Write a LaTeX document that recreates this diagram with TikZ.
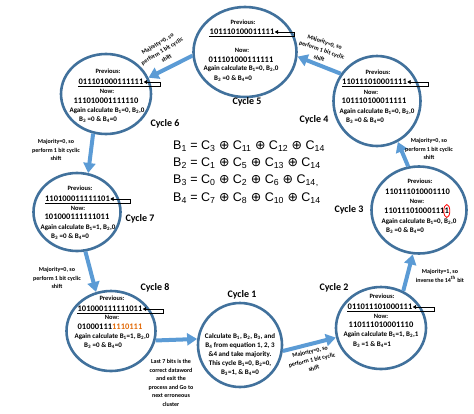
\documentclass[tikz,border=0pt]{standalone}
\usepackage{fontspec}
\setmainfont{Carlito}
\newfontfamily\eqfont{Liberation Sans}
\newfontfamily\symfont{DejaVu Sans}
\usetikzlibrary{shapes.geometric,arrows.meta,calc}
\definecolor{cycblue}{RGB}{65,113,156}
\definecolor{arrblue}{RGB}{91,155,213}
\definecolor{orng}{RGB}{226,107,10}
\newcommand{\sbs}[1]{\textsubscript{#1}}
\newcommand{\xo}{{\symfont ⊕}}
\begin{document}
\begin{tikzpicture}[x=1pt,y=-1pt,
  cyc/.style={draw=cycblue, line width=2.6pt, ellipse, inner sep=0pt},
  flow/.style={draw=arrblue, line width=4pt, -{Triangle[length=10pt,width=12pt]}},
  small/.style={font=\bfseries\fontsize{6.5}{7}\selectfont, inner sep=0pt},
  bits/.style={font=\bfseries\fontsize{8.5}{9}\selectfont, inner sep=0pt},
  txt/.style={font=\bfseries\fontsize{7}{8}\selectfont, inner sep=0pt},
  ctxt/.style={font=\bfseries\fontsize{7}{8.8}\selectfont, inner sep=0pt, align=center},
  title/.style={font=\bfseries\fontsize{10}{11}\selectfont, inner sep=0pt},
  lab/.style={font=\bfseries\fontsize{6}{8.5}\selectfont, inner sep=0pt, align=center},
  eq/.style={font=\eqfont\fontsize{12.5}{14}\selectfont, inner sep=0pt, anchor=west},
  shiftl/.style={draw=black, line width=0.9pt, -{Triangle[length=3.5pt,width=4pt]}}]
\useasboundingbox (0,0) rectangle (474,413);

% cycles
\node[cyc, minimum width=103pt, minimum height=90pt] (c5) at (245,52) {};
\node[cyc, minimum width=87pt, minimum height=90pt] (c4) at (377,101) {};
\node[cyc, minimum width=90pt, minimum height=80pt] (c6) at (106,94) {};
\node[cyc, minimum width=87pt, minimum height=78pt] (c7) at (77,212) {};
\node[cyc, minimum width=95pt, minimum height=87pt] (c3) at (419,210) {};
\node[cyc, minimum width=89pt, minimum height=80pt] (c8) at (111,331) {};
\node[cyc, minimum width=84pt, minimum height=84pt] (c1) at (240,345) {};
\node[cyc, minimum width=90pt, minimum height=82pt] (c2) at (381,328) {};

% titles
\node[title] (t5) at (247,102) {Cycle 5};
\node[title] (t4) at (314,120) {Cycle 4};
\node[title] (t6) at (165,124) {Cycle 6};
\node[title] (t7) at (140,219) {Cycle 7};
\node[title] (t3) at (349,210) {Cycle 3};
\node[title] (t8) at (155,288) {Cycle 8};
\node[title] (t1) at (242,295) {Cycle 1};
\node[title] (t2) at (334,288) {Cycle 2};

% cycle 5
\node[small] (h5) at (243,22) {Previous:};
\node[bits] (p5) at (242,32) {101110100011111};
\coordinate (r5) at (294,0);
\node[small] (w5) at (242,50) {Now:};
\node[bits] (n5) at (241,60) {011101000111111};
\node[txt] (a5) at (241,69) {Again calculate B\sbs{1}=0, B\sbs{2},0};
\node[txt] (b5) at (233,79) {B\sbs{3} =0 \& B\sbs{4}=0};
% cycle 4
\node[small] (h4) at (378,72) {Previous:};
\node[bits] (p4) at (374.5,82) {110111010001111};
\coordinate (r4) at (428,0);
\node[small] (w4) at (371,92) {Now:};
\node[bits] (n4) at (374,101) {101110100011111};
\node[txt] (a4) at (377,112) {Again calculate B\sbs{1}=0, B\sbs{2},0};
\node[txt] (b4) at (365,121) {B\sbs{3} =0 \& B\sbs{4}=0};
% cycle 6
\node[small] (h6) at (108,71) {Previous:};
\node[bits] (p6) at (111,82) {011101000111111};
\coordinate (r6) at (160,0);
\node[small] (w6) at (107,91) {Now:};
\node[bits] (n6) at (106,101) {111010001111110};
\node[txt] (a6) at (107,111) {Again calculate B\sbs{1}=0, B\sbs{2},0};
\node[txt] (b6) at (98,120) {B\sbs{3} =0 \& B\sbs{4}=0};
% cycle 7
\node[small] (h7) at (80,188) {Previous:};
\node[bits] (p7) at (77.5,199) {110100011111101};
\coordinate (r7) at (130,0);
\node[small] (w7) at (78,208) {Now:};
\node[bits] (n7) at (77,217) {101000111111011};
\node[txt] (a7) at (78,228) {Again calculate B\sbs{1}=1, B\sbs{2},0};
\node[txt] (b7) at (70,237) {B\sbs{3} =0 \& B\sbs{4}=0};
% cycle 3
\node[small] (h3) at (420,181) {Previous:};
\node[bits] (p3) at (417.5,192) {110111010001110};
\node[small] (w3) at (417,201) {Now:};
\node[bits] (n3) at (416.5,211) {110111010001111};
\node[txt] (a3) at (419,222) {Again calculate B\sbs{1}=0, B\sbs{2},0};
\node[txt] (b3) at (405,231) {B\sbs{3} =0 \& B\sbs{4}=0};
\node[draw=red, ellipse, line width=0.8pt, minimum width=6pt, minimum height=13pt, inner sep=0pt] (m3) at ([xshift=-2.2pt]n3.east) {};
% cycle 8
\node[small] (h8) at (112,298) {Previous:};
\node[bits] (p8) at (110,309) {101000111111011};
\coordinate (r8) at (163,0);
\node[small] (w8) at (112,317) {Now:};
\node[bits] (n8) at (110,327) {01000111\textcolor{orng}{1110111}};
\node[txt] (a8) at (112,337) {Again calculate B\sbs{1}=1, B\sbs{2},0};
\node[txt] (b8) at (103,346) {B\sbs{3} =0 \& B\sbs{4}=0};
% cycle 2
\node[small] (h2) at (382,296) {Previous:};
\node[bits] (p2) at (380,307) {011011101000111};
\coordinate (r2) at (434,0);
\node[small] (w2) at (381,316) {Now:};
\node[bits] (n2) at (381,325) {110111010001110};
\node[txt] (a2) at (381,335) {Again calculate B\sbs{1}=1, B\sbs{2},1};
\node[txt] (b2) at (372,345) {B\sbs{3} =1 \& B\sbs{4}=1};
% cycle 1
\node[ctxt] (x1) at (240,354.5) {Calculate B\sbs{1}, B\sbs{2}, B\sbs{3}, and\\B\sbs{4} from equation 1, 2, 3\\\&4 and take majority.\\This cycle B\sbs{1}=0, B\sbs{2}=0,\\B\sbs{3}=1, \& B\sbs{4}=0};

% shift symbols
\foreach \k in {5,4,6,7,8,2}{
  \draw[shiftl] ([yshift=-1.6pt]p\k.south west) -- ([yshift=-1.6pt]p\k.south west -| r\k) -- (r\k |- p\k.center) -- ([xshift=0.2pt]p\k.east);
}

% equations
\node[eq] (e1) at (173,146) {B\sbs{1} = C\sbs{3} \xo{} C\sbs{11} \xo{} C\sbs{12} \xo{} C\sbs{14}};
\node[eq] (e2) at (173,163) {B\sbs{2} = C\sbs{1} \xo{} C\sbs{5} \xo{} C\sbs{13} \xo{} C\sbs{14}};
\node[eq] (e3) at (173,181) {B\sbs{3} = C\sbs{0} \xo{} C\sbs{2} \xo{} C\sbs{6} \xo{} C\sbs{14}\sbs{,}};
\node[eq] (e4) at (173,198) {B\sbs{4} = C\sbs{7} \xo{} C\sbs{8} \xo{} C\sbs{10} \xo{} C\sbs{14}};

% arrows
\draw[flow] (c8.-12) -- (c1.172);
\draw[flow] (c1.-8) -- (c2.192);
\draw[flow] (c2.59) -- (c3.262);
\draw[flow] (c3.104) -- (c4.-63);
\draw[flow] (c4.143) -- (c5.-5);
\draw[flow] (c5.184) -- (c6.21);
\draw[flow] (c6.-108) -- (c7.74);
\draw[flow] (c7.-78) -- (c8.111);

% arrow labels
\node[lab, rotate=13] (l12) at (312,360) {Majority=0, so\\perform 1 bit cyclic\\shift};
\node[lab] (l23) at (440,276) {Majority=1, so\\inverse the 14\textsuperscript{th} bit};
\node[lab] (l34) at (429,149) {Majority=0, so\\perform 1 bit cyclic\\shift};
\node[lab, rotate=-19] (l45) at (322,50) {Majority=0, so\\perform 1 bit cyclic\\shift};
\node[lab, rotate=31] (l56) at (162,51) {Majority=0, so\\perform 1 bit cyclic\\shift};
\node[lab] (l67) at (56,150) {Majority=0, so\\perform 1 bit cyclic\\shift};
\node[lab] (l78) at (57,278) {Majority=0, so\\perform 1 bit cyclic\\shift};
\node[lab] (l81) at (171,383) {Last 7 bits is the\\correct dataword\\and exit the\\process and Go to\\next erroneous\\cluster};
\end{tikzpicture}
\end{document}
